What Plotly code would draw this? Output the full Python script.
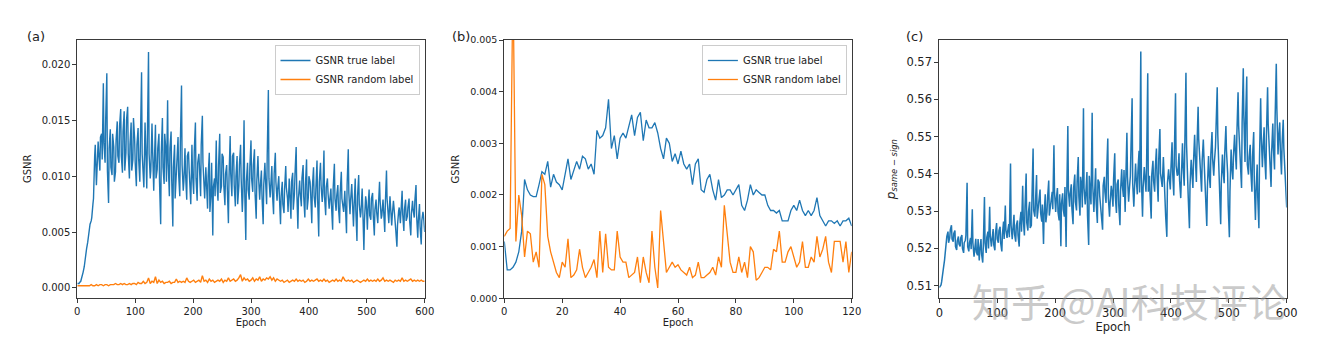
import plotly.graph_objects as go

# ---------------- data ----------------
# Panel (a): GSNR over 600 epochs (epochs 0,3,6,... and 1,4,7,...)
epochs_a = list(range(0, 601, 3))
gsnr_true_a = [
    0.0004, 0.0004, 0.0006, 0.0011, 0.0019, 0.0030, 0.0041, 0.0052, 0.0060, 0.0075,
    0.0118, 0.0092, 0.0131, 0.0105, 0.0138, 0.0183, 0.0112, 0.0192, 0.0076, 0.0142,
    0.0101, 0.0126, 0.0104, 0.0149, 0.0112, 0.0160, 0.0103, 0.0158, 0.0121, 0.0162,
    0.0098, 0.0148, 0.0115, 0.0134, 0.0091, 0.0143, 0.0095, 0.0193, 0.0104, 0.0148,
    0.0089, 0.0211, 0.0098, 0.0147, 0.0087, 0.0146, 0.0106, 0.0138, 0.0057, 0.0152,
    0.0093, 0.0123, 0.0168, 0.0082, 0.0140, 0.0055, 0.0128, 0.0099, 0.0135, 0.0082,
    0.0181, 0.0087, 0.0125, 0.0079, 0.0122, 0.0091, 0.0128, 0.0084, 0.0148, 0.0078,
    0.0120, 0.0082, 0.0154, 0.0092, 0.0108, 0.0071, 0.0121, 0.0086, 0.0047, 0.0098,
    0.0132, 0.0078, 0.0138, 0.0091, 0.0117, 0.0074, 0.0110, 0.0058, 0.0136, 0.0082,
    0.0121, 0.0073, 0.0118, 0.0091, 0.0128, 0.0068, 0.0150, 0.0043, 0.0112, 0.0079,
    0.0132, 0.0086, 0.0124, 0.0062, 0.0118, 0.0079, 0.0105, 0.0057, 0.0112, 0.0075,
    0.0177, 0.0081, 0.0109, 0.0066, 0.0121, 0.0078, 0.0100, 0.0057, 0.0095, 0.0067,
    0.0109, 0.0080, 0.0098, 0.0062, 0.0103, 0.0084, 0.0126, 0.0053, 0.0096, 0.0073,
    0.0110, 0.0063, 0.0115, 0.0081, 0.0095, 0.0058, 0.0108, 0.0072, 0.0114, 0.0046,
    0.0112, 0.0077, 0.0123, 0.0065, 0.0098, 0.0071, 0.0089, 0.0052, 0.0111, 0.0069,
    0.0092, 0.0058, 0.0104, 0.0072, 0.0087, 0.0049, 0.0124, 0.0066, 0.0093, 0.0055,
    0.0098, 0.0042, 0.0101, 0.0063, 0.0089, 0.0034, 0.0082, 0.0052, 0.0088, 0.0061,
    0.0085, 0.0047, 0.0079, 0.0058, 0.0095, 0.0062, 0.0079, 0.0050, 0.0105, 0.0068,
    0.0082, 0.0056, 0.0078, 0.0062, 0.0037, 0.0069, 0.0058, 0.0087, 0.0051, 0.0079,
    0.0064, 0.0080, 0.0047, 0.0078, 0.0063, 0.0092, 0.0045, 0.0075, 0.0039, 0.0068,
    0.0050,
]
epochs_a_mid = list(range(1, 600, 3))
gsnr_true_a_mid = [
    0.0004, 0.0005, 0.0008, 0.0014, 0.0024, 0.0035, 0.0046, 0.0057, 0.0063, 0.0080,
    0.0128, 0.0110, 0.0121, 0.0135, 0.0115, 0.0130, 0.0150, 0.0105, 0.0125, 0.0108,
    0.0138, 0.0095, 0.0132, 0.0118, 0.0145, 0.0118, 0.0140, 0.0105, 0.0150, 0.0120,
    0.0128, 0.0105, 0.0152, 0.0112, 0.0128, 0.0115, 0.0130, 0.0120, 0.0090, 0.0125,
    0.0132, 0.0120, 0.0105, 0.0125, 0.0110, 0.0098, 0.0125, 0.0095, 0.0120, 0.0108,
    0.0138, 0.0095, 0.0112, 0.0125, 0.0098, 0.0108, 0.0080, 0.0118, 0.0102, 0.0130,
    0.0110, 0.0095, 0.0102, 0.0118, 0.0108, 0.0075, 0.0102, 0.0122, 0.0098, 0.0112,
    0.0100, 0.0128, 0.0112, 0.0080, 0.0095, 0.0100, 0.0068, 0.0112, 0.0090, 0.0082,
    0.0095, 0.0110, 0.0085, 0.0120, 0.0092, 0.0102, 0.0090, 0.0098, 0.0102, 0.0118,
    0.0092, 0.0100, 0.0075, 0.0110, 0.0098, 0.0082, 0.0090, 0.0095, 0.0088, 0.0108,
    0.0098, 0.0110, 0.0085, 0.0095, 0.0100, 0.0090, 0.0082, 0.0092, 0.0098, 0.0118,
    0.0098, 0.0090, 0.0085, 0.0102, 0.0095, 0.0088, 0.0082, 0.0082, 0.0075, 0.0088,
    0.0090, 0.0068, 0.0085, 0.0095, 0.0070, 0.0102, 0.0088, 0.0080, 0.0085, 0.0098,
    0.0082, 0.0092, 0.0070, 0.0100, 0.0085, 0.0090, 0.0082, 0.0088, 0.0080, 0.0095,
    0.0092, 0.0085, 0.0082, 0.0090, 0.0085, 0.0078, 0.0074, 0.0090, 0.0080, 0.0082,
    0.0072, 0.0085, 0.0080, 0.0068, 0.0075, 0.0092, 0.0085, 0.0078, 0.0080, 0.0072,
    0.0070, 0.0082, 0.0075, 0.0068, 0.0072, 0.0060, 0.0078, 0.0070, 0.0065, 0.0080,
    0.0066, 0.0070, 0.0068, 0.0072, 0.0078, 0.0065, 0.0070, 0.0075, 0.0080, 0.0058,
    0.0070, 0.0065, 0.0072, 0.0052, 0.0056, 0.0072, 0.0068, 0.0066, 0.0070, 0.0060,
    0.0072, 0.0060, 0.0066, 0.0070, 0.0078, 0.0065, 0.0060, 0.0055, 0.0060, 0.0064,
]
gsnr_random_a = [
    0.0002, 0.0002, 0.0002, 0.0002, 0.0002, 0.0002, 0.0002, 0.0002, 0.0003, 0.0002,
    0.0002, 0.0003, 0.0002, 0.0003, 0.0003, 0.0002, 0.0003, 0.0003, 0.0002, 0.0003,
    0.0003, 0.0003, 0.0004, 0.0003, 0.0003, 0.0004, 0.0003, 0.0004, 0.0003, 0.0003,
    0.0004, 0.0003, 0.0004, 0.0004, 0.0003, 0.0005, 0.0004, 0.0004, 0.0006, 0.0004,
    0.0005, 0.0009, 0.0004, 0.0006, 0.0005, 0.0010, 0.0004, 0.0007, 0.0005, 0.0006,
    0.0004, 0.0005, 0.0005, 0.0006, 0.0004, 0.0005, 0.0005, 0.0008, 0.0005, 0.0006,
    0.0005, 0.0006, 0.0005, 0.0009, 0.0006, 0.0005, 0.0006, 0.0007, 0.0005, 0.0006,
    0.0007, 0.0005, 0.0011, 0.0006, 0.0007, 0.0005, 0.0008, 0.0006, 0.0007, 0.0005,
    0.0006, 0.0007, 0.0006, 0.0008, 0.0005, 0.0007, 0.0006, 0.0009, 0.0006, 0.0007,
    0.0008, 0.0006, 0.0007, 0.0009, 0.0012, 0.0006, 0.0009, 0.0007, 0.0008, 0.0006,
    0.0007, 0.0009, 0.0006, 0.0008, 0.0007, 0.0010, 0.0006, 0.0008, 0.0007, 0.0009,
    0.0008, 0.0010, 0.0007, 0.0009, 0.0006, 0.0008, 0.0007, 0.0006, 0.0007, 0.0005,
    0.0006, 0.0007, 0.0005, 0.0006, 0.0007, 0.0006, 0.0008, 0.0006, 0.0007, 0.0006,
    0.0007, 0.0005, 0.0006, 0.0008, 0.0006, 0.0007, 0.0006, 0.0007, 0.0008, 0.0006,
    0.0007, 0.0006, 0.0008, 0.0006, 0.0007, 0.0005, 0.0006, 0.0007, 0.0006, 0.0008,
    0.0006, 0.0007, 0.0006, 0.0010, 0.0007, 0.0006, 0.0007, 0.0006, 0.0007, 0.0005,
    0.0006, 0.0007, 0.0006, 0.0005, 0.0006, 0.0007, 0.0006, 0.0008, 0.0006, 0.0007,
    0.0006, 0.0007, 0.0006, 0.0008, 0.0006, 0.0007, 0.0009, 0.0006, 0.0007, 0.0006,
    0.0007, 0.0006, 0.0005, 0.0007, 0.0006, 0.0007, 0.0006, 0.0009, 0.0006, 0.0007,
    0.0006, 0.0007, 0.0008, 0.0006, 0.0007, 0.0006, 0.0007, 0.0006, 0.0007, 0.0006,
    0.0006,
]

# Panel (b): GSNR over first 120 epochs
epochs_b = list(range(0, 121))
gsnr_true_b = [
    0.00110, 0.00055, 0.00055, 0.00060, 0.00070, 0.00090, 0.00130, 0.00230, 0.00210, 0.00200,
    0.00197, 0.00197, 0.00220, 0.00245, 0.00240, 0.00265, 0.00215, 0.00240, 0.00225, 0.00220,
    0.00210, 0.00240, 0.00270, 0.00230, 0.00250, 0.00265, 0.00250, 0.00275, 0.00270, 0.00250,
    0.00260, 0.00240, 0.00325, 0.00310, 0.00315, 0.00330, 0.00385, 0.00290, 0.00315, 0.00270,
    0.00310, 0.00320, 0.00310, 0.00330, 0.00355, 0.00315, 0.00350, 0.00360, 0.00305, 0.00345,
    0.00330, 0.00330, 0.00340, 0.00320, 0.00290, 0.00270, 0.00310, 0.00300, 0.00265, 0.00280,
    0.00260, 0.00285, 0.00260, 0.00250, 0.00260, 0.00220, 0.00260, 0.00270, 0.00210, 0.00205,
    0.00230, 0.00240, 0.00210, 0.00190, 0.00230, 0.00195, 0.00200, 0.00210, 0.00210, 0.00200,
    0.00210, 0.00220, 0.00180, 0.00170, 0.00190, 0.00220, 0.00200, 0.00210, 0.00205, 0.00200,
    0.00200, 0.00180, 0.00170, 0.00170, 0.00165, 0.00170, 0.00150, 0.00150, 0.00150, 0.00170,
    0.00180, 0.00170, 0.00190, 0.00170, 0.00160, 0.00170, 0.00160, 0.00170, 0.00195, 0.00160,
    0.00150, 0.00140, 0.00150, 0.00150, 0.00145, 0.00150, 0.00140, 0.00150, 0.00150, 0.00155,
    0.00140,
]
gsnr_random_b = [
    0.00120, 0.00130, 0.00135, 0.00620, 0.00110, 0.00200, 0.00160, 0.00080, 0.00130, 0.00125,
    0.00070, 0.00090, 0.00060, 0.00240, 0.00220, 0.00120, 0.00090, 0.00070, 0.00050, 0.00040,
    0.00070, 0.00060, 0.00115, 0.00040, 0.00045, 0.00055, 0.00095, 0.00060, 0.00040, 0.00050,
    0.00060, 0.00075, 0.00040, 0.00130, 0.00050, 0.00125, 0.00060, 0.00055, 0.00055, 0.00130,
    0.00080, 0.00070, 0.00070, 0.00040, 0.00045, 0.00050, 0.00080, 0.00030, 0.00080, 0.00050,
    0.00030, 0.00130, 0.00060, 0.00020, 0.00170, 0.00110, 0.00050, 0.00060, 0.00070, 0.00060,
    0.00065, 0.00055, 0.00050, 0.00045, 0.00060, 0.00040, 0.00045, 0.00070, 0.00040, 0.00040,
    0.00045, 0.00050, 0.00060, 0.00045, 0.00080, 0.00060, 0.00180, 0.00130, 0.00070, 0.00050,
    0.00050, 0.00080, 0.00050, 0.00070, 0.00040, 0.00100, 0.00090, 0.00035, 0.00040, 0.00050,
    0.00060, 0.00060, 0.00055, 0.00095, 0.00090, 0.00130, 0.00070, 0.00070, 0.00090, 0.00100,
    0.00080, 0.00060, 0.00070, 0.00110, 0.00060, 0.00060, 0.00080, 0.00070, 0.00120, 0.00080,
    0.00095, 0.00120, 0.00070, 0.00050, 0.00110, 0.00110, 0.00110, 0.00070, 0.00110, 0.00050,
    0.00090,
]

# Panel (c): p_same-sign over 600 epochs (epochs 0,3,6,... and 1,4,7,...)
epochs_c = list(range(0, 601, 3))
p_same_sign = [
    0.5095, 0.5102, 0.5128, 0.5168, 0.5212, 0.5245, 0.5228, 0.5262, 0.5218, 0.5248,
    0.5196, 0.5232, 0.5205, 0.5236, 0.5188, 0.5222, 0.5376, 0.5192, 0.5228, 0.5305,
    0.5178, 0.5226, 0.5182, 0.5168, 0.5225, 0.5162, 0.5338, 0.5188, 0.5245, 0.5312,
    0.5205, 0.5252, 0.5195, 0.5268, 0.5215, 0.5258, 0.5192, 0.5272, 0.5315, 0.5228,
    0.5265, 0.5428, 0.5225, 0.5290, 0.5218, 0.5275, 0.5205, 0.5298, 0.5368, 0.5235,
    0.5401, 0.5248, 0.5325, 0.5262, 0.5468, 0.5285, 0.5397, 0.5305, 0.5358, 0.5272,
    0.5212, 0.5345, 0.5298, 0.5382, 0.5315, 0.5352, 0.5477, 0.5298, 0.5362, 0.5275,
    0.5206, 0.5348, 0.5285, 0.5204, 0.5528, 0.5312, 0.5372, 0.5265, 0.5398, 0.5302,
    0.5445, 0.5288, 0.5365, 0.5576, 0.5318, 0.5405, 0.5209, 0.5352, 0.5564, 0.5298,
    0.5415, 0.5268, 0.5378, 0.5305, 0.5250, 0.5392, 0.5322, 0.5495, 0.5285, 0.5368,
    0.5312, 0.5455, 0.5295, 0.5385, 0.5262, 0.5412, 0.5338, 0.5298, 0.5510, 0.5325,
    0.5395, 0.5603, 0.5312, 0.5428, 0.5345, 0.5462, 0.5728, 0.5285, 0.5418, 0.5352,
    0.5670, 0.5395, 0.5280, 0.5435, 0.5352, 0.5468, 0.5325, 0.5520, 0.5378, 0.5445,
    0.5318, 0.5231, 0.5412, 0.5358, 0.5485, 0.5342, 0.5616, 0.5395, 0.5455, 0.5335,
    0.5482, 0.5368, 0.5671, 0.5412, 0.5254, 0.5438, 0.5362, 0.5505, 0.5378, 0.5580,
    0.5425, 0.5352, 0.5492, 0.5385, 0.5260, 0.5448, 0.5362, 0.5512, 0.5395, 0.5472,
    0.5632, 0.5398, 0.5265, 0.5452, 0.5375, 0.5528, 0.5402, 0.5230, 0.5465, 0.5385,
    0.5505, 0.5412, 0.5619, 0.5445, 0.5362, 0.5683, 0.5432, 0.5661, 0.5398, 0.5478,
    0.5352, 0.5512, 0.5276, 0.5425, 0.5254, 0.5603, 0.5418, 0.5525, 0.5385, 0.5632,
    0.5445, 0.5365, 0.5535, 0.5412, 0.5695, 0.5452, 0.5538, 0.5398, 0.5545, 0.5402,
    0.5310,
]
epochs_c_mid = list(range(1, 600, 3))
p_same_sign_mid = [
    0.5098, 0.5110, 0.5145, 0.5190, 0.5232, 0.5215, 0.5250, 0.5225, 0.5240, 0.5205,
    0.5220, 0.5212, 0.5228, 0.5200, 0.5215, 0.5235, 0.5205, 0.5215, 0.5198, 0.5215,
    0.5200, 0.5190, 0.5225, 0.5195, 0.5185, 0.5205, 0.5215, 0.5230, 0.5200, 0.5235,
    0.5222, 0.5210, 0.5240, 0.5225, 0.5248, 0.5215, 0.5238, 0.5225, 0.5250, 0.5245,
    0.5230, 0.5262, 0.5248, 0.5238, 0.5262, 0.5235, 0.5268, 0.5245, 0.5280, 0.5310,
    0.5270, 0.5298, 0.5255, 0.5330, 0.5302, 0.5318, 0.5280, 0.5325, 0.5295, 0.5318,
    0.5290, 0.5270, 0.5335, 0.5288, 0.5340, 0.5305, 0.5352, 0.5330, 0.5298, 0.5345,
    0.5320, 0.5305, 0.5365, 0.5330, 0.5355, 0.5345, 0.5308, 0.5362, 0.5325, 0.5378,
    0.5340, 0.5392, 0.5310, 0.5362, 0.5345, 0.5288, 0.5395, 0.5318, 0.5370, 0.5345,
    0.5320, 0.5385, 0.5342, 0.5295, 0.5368, 0.5352, 0.5402, 0.5335, 0.5322, 0.5355,
    0.5385, 0.5340, 0.5372, 0.5315, 0.5352, 0.5372, 0.5410, 0.5375, 0.5392, 0.5352,
    0.5465, 0.5375, 0.5355, 0.5390, 0.5405, 0.5350, 0.5390, 0.5362, 0.5395, 0.5420,
    0.5352, 0.5345, 0.5398, 0.5382, 0.5412, 0.5395, 0.5438, 0.5402, 0.5365, 0.5390,
    0.5285, 0.5375, 0.5392, 0.5410, 0.5405, 0.5455, 0.5422, 0.5398, 0.5382, 0.5412,
    0.5425, 0.5475, 0.5480, 0.5335, 0.5368, 0.5395, 0.5430, 0.5452, 0.5468, 0.5495,
    0.5388, 0.5435, 0.5448, 0.5318, 0.5362, 0.5402, 0.5452, 0.5442, 0.5430, 0.5525,
    0.5505, 0.5325, 0.5372, 0.5412, 0.5455, 0.5462, 0.5315, 0.5352, 0.5422, 0.5445,
    0.5468, 0.5510, 0.5530, 0.5402, 0.5535, 0.5555, 0.5545, 0.5425, 0.5445, 0.5410,
    0.5445, 0.5382, 0.5350, 0.5338, 0.5435, 0.5508, 0.5462, 0.5448, 0.5502, 0.5535,
    0.5402, 0.5458, 0.5470, 0.5548, 0.5575, 0.5492, 0.5465, 0.5478, 0.5470, 0.5385,
]

ticks_a_y = [0.000, 0.005, 0.010, 0.015, 0.020]
ticks_b_y = [0.000, 0.001, 0.002, 0.003, 0.004, 0.005]
ticks_c_y = [0.51, 0.52, 0.53, 0.54, 0.55, 0.56, 0.57]
ticks_600 = [0, 100, 200, 300, 400, 500, 600]
ticks_120 = [0, 20, 40, 60, 80, 100, 120]


def merge(xs1, ys1, xs2, ys2):
    pairs = sorted(zip(xs1 + xs2, ys1 + ys2))
    return [p[0] for p in pairs], [p[1] for p in pairs]


x_a, y_a = merge(epochs_a, gsnr_true_a, epochs_a_mid, gsnr_true_a_mid)
x_c, y_c = merge(epochs_c, p_same_sign, epochs_c_mid, p_same_sign_mid)

# ---------------- figure ----------------
W, H = 1322, 354
BLUE = "#1f77b4"
ORANGE = "#ff7f0e"
FONT = "DejaVu Sans"
TXT = "#222222"
LINE = "#3a3a3a"


def px_x(p):
    return p / W


def px_y(p):
    return 1 - p / H


fig = go.Figure()

fig.add_trace(go.Scatter(x=x_a, y=y_a, mode="lines", name="GSNR true label",
                         line=dict(color=BLUE, width=1.4), xaxis="x", yaxis="y", legend="legend"))
fig.add_trace(go.Scatter(x=epochs_a, y=gsnr_random_a, mode="lines", name="GSNR random label",
                         line=dict(color=ORANGE, width=1.4), xaxis="x", yaxis="y", legend="legend"))
fig.add_trace(go.Scatter(x=epochs_b, y=gsnr_true_b, mode="lines", name="GSNR true label",
                         line=dict(color=BLUE, width=1.3), xaxis="x2", yaxis="y2", legend="legend2"))
fig.add_trace(go.Scatter(x=epochs_b, y=gsnr_random_b, mode="lines", name="GSNR random label",
                         line=dict(color=ORANGE, width=1.3), xaxis="x2", yaxis="y2", legend="legend2"))
fig.add_trace(go.Scatter(x=x_c, y=y_c, mode="lines", name="p same-sign",
                         line=dict(color=BLUE, width=1.5), xaxis="x3", yaxis="y3", showlegend=False))


def axis_common(size):
    return dict(showline=True, mirror=True, linecolor=LINE, linewidth=1,
                ticks="outside", ticklen=4, tickwidth=1, tickcolor=LINE,
                showgrid=False, zeroline=False, automargin=False,
                tickfont=dict(family=FONT, size=size, color=TXT))


ya = [px_y(297.7), px_y(40)]
yb = [px_y(298.3), px_y(40)]

fig.update_layout(
    width=W, height=H,
    margin=dict(l=0, r=0, t=0, b=0),
    paper_bgcolor="white", plot_bgcolor="white",
    font=dict(family=FONT, color=TXT),
    xaxis=dict(domain=[px_x(77.3), px_x(424.7)], range=[0, 600], tickvals=ticks_600,
               anchor="y", title=dict(text="Epoch", font=dict(size=10, family=FONT), standoff=2),
               **axis_common(10)),
    yaxis=dict(domain=ya, range=[-0.00087, 0.02218], tickvals=ticks_a_y, tickformat=".3f",
               anchor="x", title=dict(text="GSNR", font=dict(size=10, family=FONT), standoff=8),
               **axis_common(10)),
    xaxis2=dict(domain=[px_x(504.3), px_x(851.7)], range=[0, 120], tickvals=ticks_120,
                anchor="y2", title=dict(text="Epoch", font=dict(size=10, family=FONT), standoff=2),
                **axis_common(10)),
    yaxis2=dict(domain=yb, range=[0, 0.005], tickvals=ticks_b_y, tickformat=".3f",
                anchor="x2", title=dict(text="GSNR", font=dict(size=10, family=FONT), standoff=8),
                **axis_common(9.5)),
    xaxis3=dict(domain=[px_x(939.3), px_x(1286.7)], range=[0, 600], tickvals=ticks_600,
                anchor="y3", title=dict(text="Epoch", font=dict(size=11.5, family=FONT), standoff=2),
                **axis_common(11.5)),
    yaxis3=dict(domain=yb, range=[0.50662, 0.5759], tickvals=ticks_c_y, tickformat=".2f",
                anchor="x3",
                title=dict(text="<i>p</i><sub><i>same − sign</i></sub>",
                           font=dict(size=12, family=FONT), standoff=8),
                **axis_common(11.5)),
    legend=dict(x=px_x(419.5), y=px_y(45), xanchor="right", yanchor="top",
                bgcolor="rgba(255,255,255,0.85)", bordercolor="#cccccc", borderwidth=1,
                font=dict(family=FONT, size=10, color=TXT), itemwidth=30, tracegroupgap=0),
    legend2=dict(x=px_x(846.9), y=px_y(45), xanchor="right", yanchor="top",
                 bgcolor="rgba(255,255,255,0.85)", bordercolor="#cccccc", borderwidth=1,
                 font=dict(family=FONT, size=10, color=TXT), itemwidth=30, tracegroupgap=0),
)

panel_labels = [("(a)", 35.5), ("(b)", 460.5), ("(c)", 914)]
for text, xp in panel_labels:
    fig.add_annotation(text=text, x=px_x(xp), y=px_y(37), xref="paper", yref="paper",
                       showarrow=False, xanchor="center", yanchor="middle",
                       font=dict(family=FONT, size=13, color=TXT))

fig.add_annotation(text="知乎 @AI科技评论", x=px_x(1129), y=px_y(300), xref="paper", yref="paper",
                   showarrow=False, xanchor="center", yanchor="middle",
                   font=dict(family="Noto Sans CJK SC", size=39, color="rgba(150,150,150,0.5)"))

fig.write_html("out.html")
